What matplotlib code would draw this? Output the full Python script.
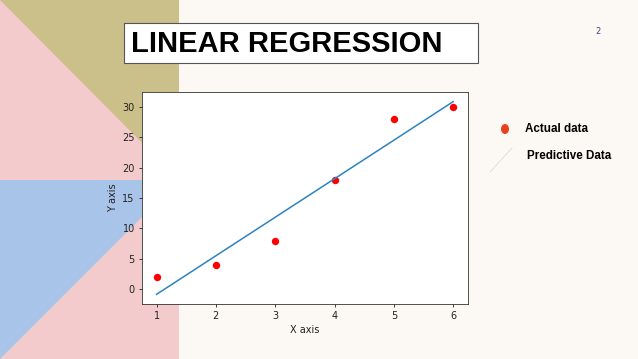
import numpy as np
import matplotlib
matplotlib.use("Agg")
from matplotlib import pyplot as plt
from matplotlib.patches import Polygon, Rectangle, Ellipse

# data
x_vals = [1, 2, 3, 4, 5, 6]
y_actual = [2, 4, 8, 18, 28, 30]
y_pred = [-0.86, 5.49, 11.83, 18.17, 24.51, 30.86]

title = "LINEAR REGRESSION"
legend_labels = ["Actual data", "Predictive Data"]

W, H = 638, 359
fig = plt.figure(figsize=(W / 100, H / 100), dpi=100)
fig.patch.set_facecolor("#fcf8f3")

# background decoration, pixel coords
bg = fig.add_axes([0, 0, 1, 1])
bg.set_xlim(0, W)
bg.set_ylim(H, 0)
bg.axis("off")
bg.add_patch(Rectangle((0, 0), 179, H, facecolor="#f4cbcc", edgecolor="none"))
bg.add_patch(Polygon([(0, 0), (179, 0), (179, 180)], facecolor="#cbbf8a", edgecolor="none"))
bg.add_patch(Polygon([(0, 180), (179, 180), (0, 359)], facecolor="#a9c4e9", edgecolor="none"))

# title box
bg.add_patch(Rectangle((124, 23), 354, 40, facecolor="white", edgecolor="#555555", linewidth=0.8))
bg.text(131, 44, title, fontsize=21, fontweight="bold", family="Liberation Sans",
        va="center", ha="left", color="black")
bg.text(598, 32, "2", fontsize=6, color="#3d4a8a", va="center", ha="center")

# legend on the slide
bg.add_patch(Ellipse((505, 129), 8, 10, facecolor="#e8401c", edgecolor="none"))
bg.plot([490, 512], [172, 148], color="#ecd4d4", linewidth=0.6)
bg.text(525, 129, legend_labels[0], fontsize=8.4, fontweight="bold", family="Liberation Sans",
        va="center", ha="left")
bg.text(527, 156, legend_labels[1], fontsize=8.4, fontweight="bold", family="Liberation Sans",
        va="center", ha="left")

# chart
ax = fig.add_axes([141.7 / W, (H - 304) / H, (468 - 141.7) / W, (304 - 92) / H])
ax.set_facecolor("white")
ax.plot(x_vals, y_actual, "o", color="red", markersize=4.3)
ax.plot(x_vals, y_pred, color="#2b83c0", linewidth=1.1)
ax.set_yticks([0, 5, 10, 15, 20, 25, 30])
ax.tick_params(labelsize=7, length=2.5, width=0.6, pad=2.5, colors="#222222")
for s in ax.spines.values():
    s.set_linewidth(0.6)
    s.set_color("#333333")
ax.set_xlabel("X axis", fontsize=7, labelpad=2.8, color="#222222")
ax.set_ylabel("Y axis", fontsize=7, labelpad=2.8, color="#222222")

fig.savefig("out.png", dpi=100, facecolor=fig.get_facecolor())
